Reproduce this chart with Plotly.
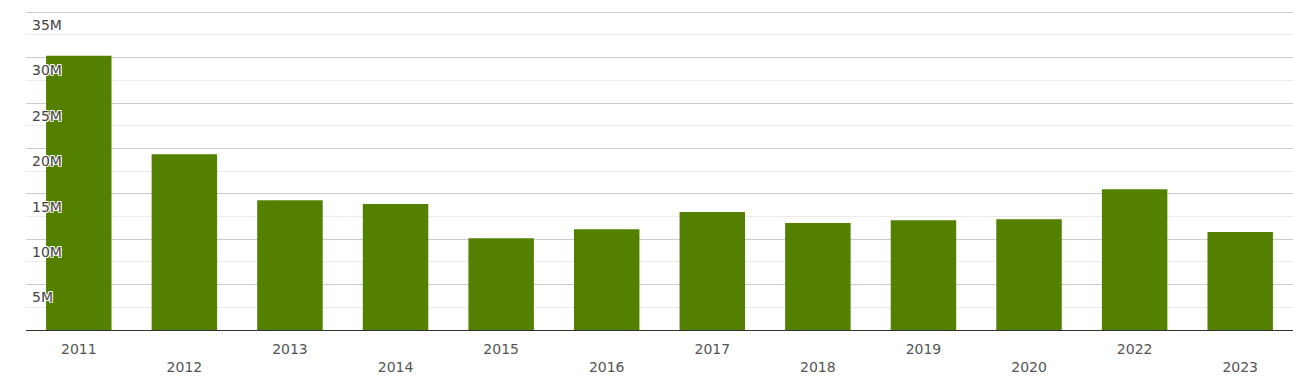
import plotly.graph_objects as go

years = ["2011", "2012", "2013", "2014", "2015", "2016", "2017", "2018", "2019", "2020", "2022", "2023"]
values = [30.2e6, 19.37e6, 14.3e6, 13.87e6, 10.1e6, 11.1e6, 13.0e6, 11.8e6, 12.1e6, 12.2e6, 15.5e6, 10.8e6]
y_tick_vals = [5e6, 10e6, 15e6, 20e6, 25e6, 30e6, 35e6]
y_tick_text = ["5M", "10M", "15M", "20M", "25M", "30M", "35M"]

x_tick_text = [y if i % 2 == 0 else "<br>" + y for i, y in enumerate(years)]

fig = go.Figure(go.Bar(x=years, y=values, marker=dict(color="#548000", line=dict(width=0)), width=0.62))

halo = "1px 1px 0 #fff, -1px -1px 0 #fff, 1px -1px 0 #fff, -1px 1px 0 #fff"

fig.update_layout(
    width=1293, height=384,
    margin=dict(l=26, r=0, t=10, b=54),
    plot_bgcolor="white", paper_bgcolor="white",
    showlegend=False,
    font=dict(family="DejaVu Sans", size=14, color="#555"),
    xaxis=dict(
        type="category", tickmode="array", tickvals=years, ticktext=x_tick_text,
        range=[-0.5, len(years) - 0.5], autorange=False,
        showgrid=False, showline=True, linecolor="#333", linewidth=1,
        ticks="", tickfont=dict(size=14, color="#555"), ticklabelstandoff=6,
    ),
    yaxis=dict(
        range=[0, 35.25e6], autorange=False, tickmode="array", tickvals=y_tick_vals, ticktext=y_tick_text,
        ticklabelposition="inside bottom", showgrid=True, gridcolor="#cccccc", gridwidth=1,
        zeroline=False, showline=False, ticks="",
        tickfont=dict(size=14, color="#444", shadow=halo),
        minor=dict(dtick=2.5e6, showgrid=True, gridcolor="#ebebeb", gridwidth=1),
        ticklabelstandoff=3, ticklabelshift=3,
    ),
)
fig.write_html("out.html")
